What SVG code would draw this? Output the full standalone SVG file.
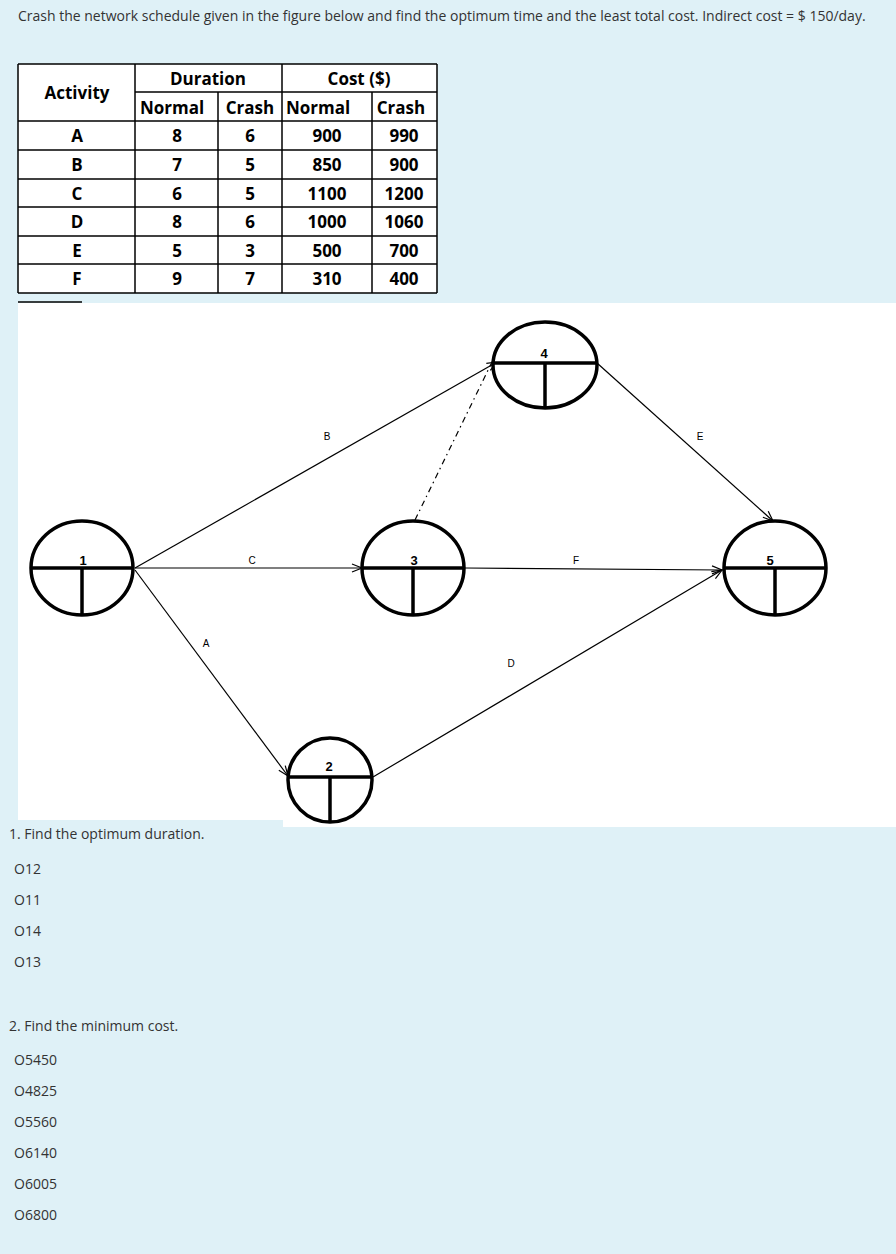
<svg xmlns="http://www.w3.org/2000/svg" width="896" height="1254" viewBox="0 0 896 1254">
<defs>
<marker id="ar" markerWidth="12" markerHeight="10" refX="11" refY="5" orient="auto" markerUnits="userSpaceOnUse"><path d="M1,1 L11,5 L1,9" fill="none" stroke="#000" stroke-width="1.2"/></marker>
</defs>
<style>
.t{font-family:"Open Sans","Liberation Sans",sans-serif;font-size:14px;fill:#333}
.tb{font-family:"Open Sans","Liberation Sans",sans-serif;font-size:17px;font-weight:bold;fill:#000;text-anchor:middle}
.th{font-family:"Open Sans","Liberation Sans",sans-serif;font-size:17px;font-weight:bold;fill:#000;text-anchor:middle}
.nl{font-family:"Liberation Sans",sans-serif;font-size:13px;font-weight:bold;fill:#000;text-anchor:middle}
.el{font-family:"Liberation Sans",sans-serif;font-size:10px;fill:#000;text-anchor:middle}
.node ellipse{fill:#fff;stroke:#000;stroke-width:3.5}
.node line{stroke:#000;stroke-width:3.5}
.c{stroke:#000;stroke-width:1.2;fill:none}
.g{stroke:#000;stroke-width:1.5}
.r{font-family:"Open Sans","Liberation Sans",sans-serif;font-size:14px;fill:#333}
</style>
<rect width="896" height="1254" fill="#dff1f7"/>
<text class="t" x="18" y="21">Crash the network schedule given in the figure below and find the optimum time and the least total cost. Indirect cost = $ 150/day.</text>
<g id="table">
<rect x="18" y="64" width="419" height="229" fill="#fff"/>
<g class="g">
<line x1="18" y1="64" x2="437" y2="64"/><line x1="135" y1="92" x2="437" y2="92"/>
<line x1="18" y1="121" x2="437" y2="121"/><line x1="18" y1="150" x2="437" y2="150"/>
<line x1="18" y1="179" x2="437" y2="179"/><line x1="18" y1="207" x2="437" y2="207"/>
<line x1="18" y1="236" x2="437" y2="236"/><line x1="18" y1="264" x2="437" y2="264"/>
<line x1="18" y1="293" x2="437" y2="293"/>
<line x1="18" y1="64" x2="18" y2="293"/><line x1="135" y1="64" x2="135" y2="293"/>
<line x1="218" y1="92" x2="218" y2="293"/><line x1="282" y1="64" x2="282" y2="293"/>
<line x1="372" y1="92" x2="372" y2="293"/><line x1="437" y1="64" x2="437" y2="293"/>
<line x1="18" y1="302" x2="82" y2="302"/>
</g>
<text class="th" x="77" y="99">Activity</text>
<text class="th" x="208" y="85">Duration</text><text class="th" x="359" y="85">Cost ($)</text>
<text class="th" x="172" y="114">Normal</text><text class="th" x="250" y="114">Crash</text>
<text class="th" x="318" y="114">Normal</text><text class="th" x="401" y="114">Crash</text>
<g class="tb">
<text x="77" y="142">A</text><text x="177" y="142">8</text><text x="250" y="142">6</text><text x="327" y="142">900</text><text x="404" y="142">990</text>
<text x="77" y="171">B</text><text x="177" y="171">7</text><text x="250" y="171">5</text><text x="327" y="171">850</text><text x="404" y="171">900</text>
<text x="77" y="200">C</text><text x="177" y="200">6</text><text x="250" y="200">5</text><text x="327" y="200">1100</text><text x="404" y="200">1200</text>
<text x="77" y="228">D</text><text x="177" y="228">8</text><text x="250" y="228">6</text><text x="327" y="228">1000</text><text x="404" y="228">1060</text>
<text x="77" y="257">E</text><text x="177" y="257">5</text><text x="250" y="257">3</text><text x="327" y="257">500</text><text x="404" y="257">700</text>
<text x="77" y="285">F</text><text x="177" y="285">9</text><text x="250" y="285">7</text><text x="327" y="285">310</text><text x="404" y="285">400</text>
</g>
</g>
<path d="M18,303 H896 V827 H283 V820 H18 Z" fill="#fff"/>
<g id="connectors">
<line class="c" x1="135" y1="568" x2="497" y2="362" marker-end="url(#ar)"/>
<line class="c" x1="135" y1="568" x2="362" y2="568" marker-end="url(#ar)"/>
<line class="c" x1="135" y1="570" x2="288" y2="776" marker-end="url(#ar)"/>
<line class="c" x1="465" y1="568" x2="722" y2="570" marker-end="url(#ar)"/>
<line class="c" x1="373" y1="777" x2="722" y2="570" marker-end="url(#ar)"/>
<line class="c" x1="597" y1="363" x2="773" y2="521" marker-end="url(#ar)"/>
<line class="c" x1="415" y1="520" x2="493" y2="360" stroke-dasharray="6,4,1.5,4"/>
<text class="el" x="327" y="440">B</text>
<text class="el" x="252" y="564">C</text>
<text class="el" x="206" y="647">A</text>
<text class="el" x="576" y="564">F</text>
<text class="el" x="511" y="667">D</text>
<text class="el" x="700" y="440">E</text>
</g>
<g id="n1" class="node"><ellipse cx="82" cy="568" rx="51" ry="47"/><line x1="31" y1="568" x2="133" y2="568"/><line x1="82" y1="568" x2="82" y2="615"/><text class="nl" x="83" y="565">1</text></g>
<g id="n2" class="node"><ellipse cx="330" cy="780" rx="42" ry="42"/><line x1="288" y1="777" x2="372" y2="777"/><line x1="330" y1="777" x2="330" y2="822"/><text class="nl" x="329" y="771">2</text></g>
<g id="n3" class="node"><ellipse cx="413" cy="568" rx="51" ry="47"/><line x1="362" y1="568" x2="464" y2="568"/><line x1="413" y1="568" x2="413" y2="615"/><text class="nl" x="414" y="565">3</text></g>
<g id="n4" class="node"><ellipse cx="545" cy="365" rx="52" ry="43"/><line x1="493" y1="363" x2="597" y2="363"/><line x1="545" y1="363" x2="545" y2="408"/><text class="nl" x="544" y="358">4</text></g>
<g id="n5" class="node"><ellipse cx="775" cy="568" rx="51" ry="47"/><line x1="724" y1="568" x2="826" y2="568"/><line x1="775" y1="568" x2="775" y2="615"/><text class="nl" x="770" y="565">5</text></g>
<text class="t" x="9" y="839">1. Find the optimum duration.</text>
<text class="r" x="14" y="874">O12</text><text class="r" x="14" y="905">O11</text><text class="r" x="14" y="936">O14</text><text class="r" x="14" y="967">O13</text>
<text class="t" x="9" y="1031">2. Find the minimum cost.</text>
<text class="r" x="14" y="1065">O5450</text><text class="r" x="14" y="1096">O4825</text><text class="r" x="14" y="1127">O5560</text><text class="r" x="14" y="1158">O6140</text><text class="r" x="14" y="1189">O6005</text><text class="r" x="14" y="1220">O6800</text>
</svg>
